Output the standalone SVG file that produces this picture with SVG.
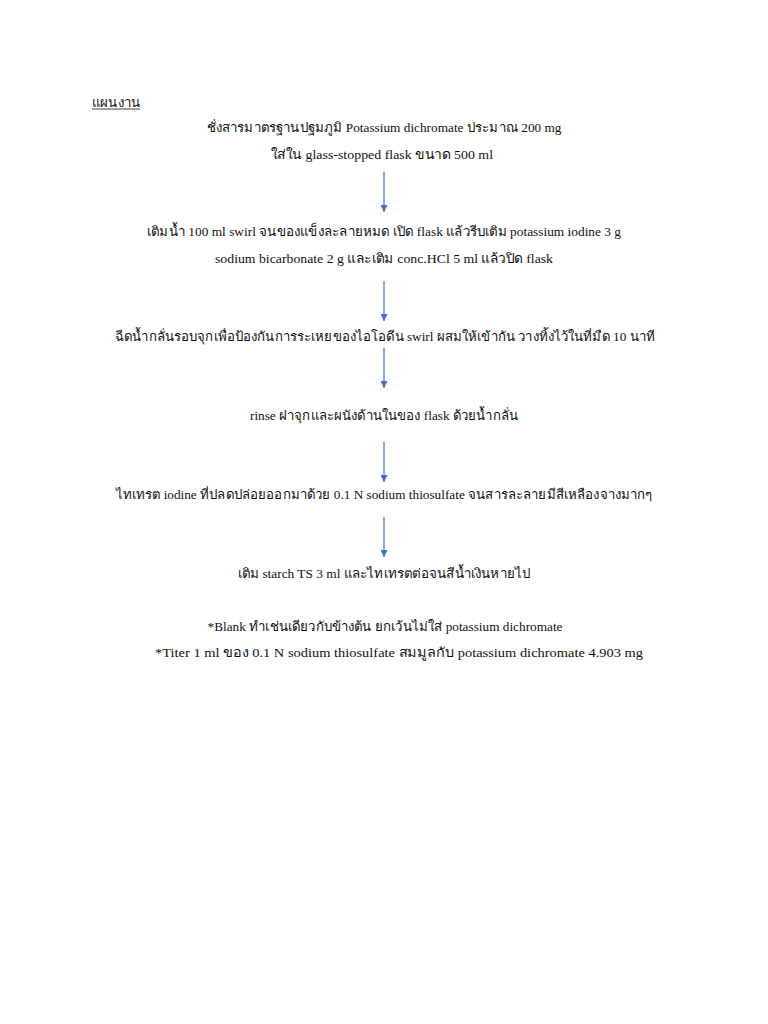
<svg xmlns="http://www.w3.org/2000/svg" width="768" height="1024" viewBox="0 0 768 1024">
<defs>
<style>
text{font-family:"Liberation Serif","Noto Sans","DejaVu Serif",serif;font-size:13px;fill:#111;text-anchor:middle}
.c{stroke:#4472C4;stroke-width:1.2;fill:none}
</style>
<marker id="ah" viewBox="0 0 10 10" refX="10" refY="5" markerWidth="7" markerHeight="7" markerUnits="userSpaceOnUse" orient="auto">
<path d="M0,0 L10,5 L0,10 Z" fill="#4472C4"/>
</marker>
</defs>
<rect width="768" height="1024" fill="#fff"/>
<g id="title">
<text x="116" y="107" textLength="48" lengthAdjust="spacingAndGlyphs">แผนงาน</text>
<line x1="92" y1="109" x2="140" y2="109" stroke="#111" stroke-width="0.8"/>
</g>
<g id="step1">
<text x="384" y="132" textLength="355" lengthAdjust="spacingAndGlyphs">ชั่งสารมาตรฐานปฐมภูมิ Potassium dichromate ประมาณ 200 mg</text>
<text x="382" y="159" textLength="222" lengthAdjust="spacingAndGlyphs">ใส่ใน glass-stopped flask ขนาด 500 ml</text>
</g>
<g id="step2">
<text x="384" y="236" textLength="474" lengthAdjust="spacingAndGlyphs">เติมน้ำ 100 ml swirl จนของแข็งละลายหมด เปิด flask แล้วรีบเติม potassium iodine 3 g</text>
<text x="384" y="263" textLength="338" lengthAdjust="spacingAndGlyphs">sodium bicarbonate 2 g และเติม conc.HCl 5 ml  แล้วปิด flask</text>
</g>
<g id="step3">
<text x="385" y="341" textLength="540" lengthAdjust="spacingAndGlyphs">ฉีดน้ำกลั่นรอบจุกเพื่อป้องกันการระเหยของไอโอดีน swirl ผสมให้เข้ากัน วางทิ้งไว้ในที่มืด 10 นาที</text>
</g>
<g id="step4">
<text x="384" y="420" textLength="268" lengthAdjust="spacingAndGlyphs">rinse ฝาจุกและผนังด้านในของ flask ด้วยน้ำกลั่น</text>
</g>
<g id="step5">
<text x="384" y="499" textLength="537" lengthAdjust="spacingAndGlyphs">ไทเทรต iodine ที่ปลดปล่อยออกมาด้วย 0.1 N sodium thiosulfate จนสารละลายมีสีเหลืองจางมากๆ</text>
</g>
<g id="step6">
<text x="384" y="578" textLength="293" lengthAdjust="spacingAndGlyphs">เติม starch TS 3 ml และไทเทรตต่อจนสีน้ำเงินหายไป</text>
</g>
<g id="notes">
<text x="385" y="631" textLength="355" lengthAdjust="spacingAndGlyphs">*Blank ทำเช่นเดียวกับข้างต้น ยกเว้นไม่ใส่ potassium dichromate</text>
<text x="399" y="657" textLength="488" lengthAdjust="spacingAndGlyphs">*Titer 1 ml ของ 0.1 N sodium thiosulfate สมมูลกับ potassium dichromate 4.903 mg</text>
</g>
<g id="connectors">
<line class="c" x1="384" y1="172" x2="384" y2="212" marker-end="url(#ah)"/>
<line class="c" x1="384" y1="281" x2="384" y2="321" marker-end="url(#ah)"/>
<line class="c" x1="384" y1="348" x2="384" y2="388" marker-end="url(#ah)"/>
<line class="c" x1="384" y1="442" x2="384" y2="482" marker-end="url(#ah)"/>
<line class="c" x1="384" y1="517" x2="384" y2="557" marker-end="url(#ah)"/>
</g>
</svg>
